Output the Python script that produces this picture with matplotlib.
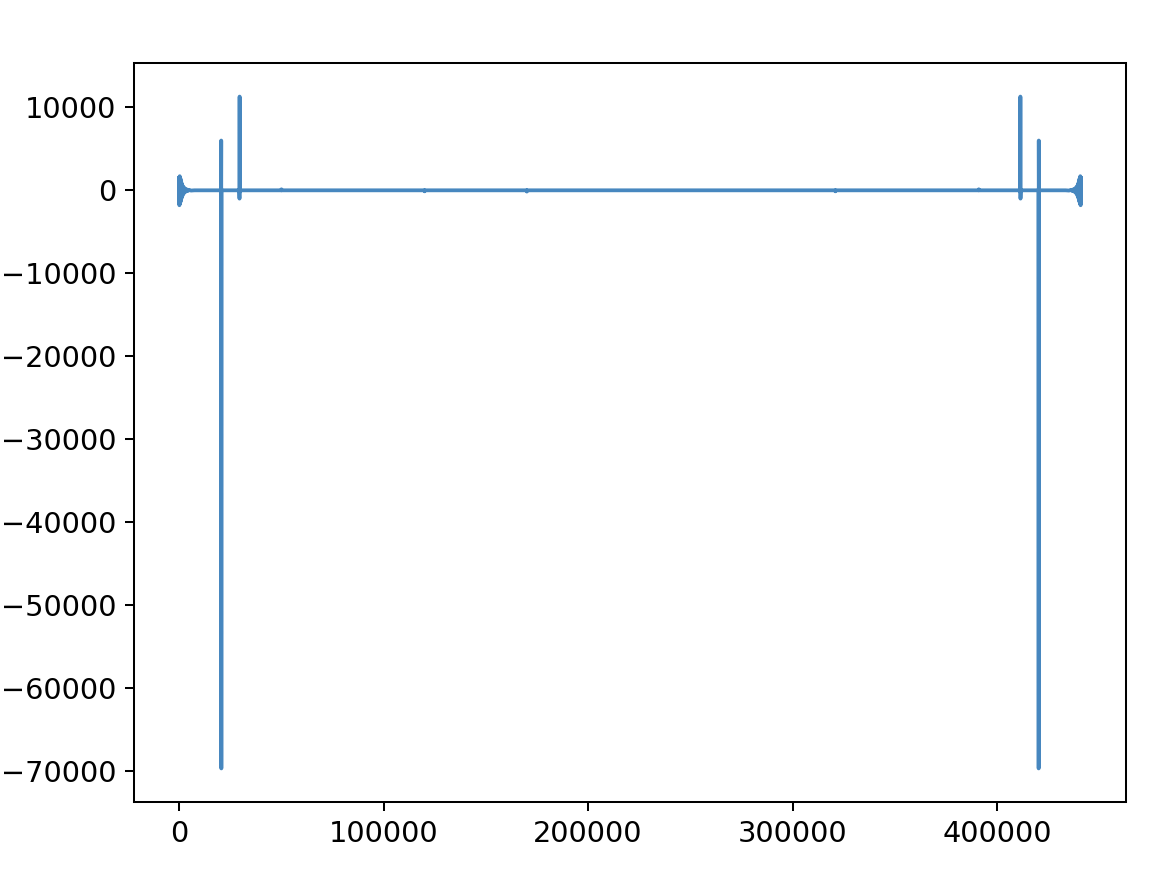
import numpy as np
import matplotlib
matplotlib.use("Agg")
import matplotlib.pyplot as plt

# key points of the spectrum (sample index -> value)
head_idx = [0, 150, 300, 450, 620, 800, 1000, 1220, 1460, 1720, 2000, 2320, 2680,
            3100, 3600, 4200, 4900, 5800, 7500]
head_val = [1500, -1800, 1700, -1600, 1450, -1350, 1150, -950, 780, -620, 480,
            -370, 270, -190, 130, -90, 60, -30, 0]

spike_idx = [20450, 20540, 20600, 20660, 20750, 29450, 29540, 29600, 29660, 29750,
             50000, 50050, 50100, 120000, 120050, 120100, 170000, 170050, 170100,
             320900, 320950, 321000, 391000, 391050, 391100,
             411250, 411340, 411400, 411460, 411550, 420250, 420340, 420400, 420460, 420550]
spike_val = [0, 80, 6000, -69700, 0, 0, -1000, 11300, -200, 0,
             0, 120, 0, 0, -120, 0, 0, -150, 0,
             0, -120, 0, 0, 120, 0,
             0, -200, 11300, -1000, 0, 0, -69700, 6000, 80, 0]

tail_idx = [433500, 435200, 436100, 436800, 437400, 437900, 438320, 438680, 439000,
            439280, 439540, 439780, 440000, 440200, 440380, 440550, 440700, 440850, 441000]
tail_val = [0, -30, 60, -90, 130, -190, 270, -370, 480, -620, 780, -950, 1150,
            -1350, 1450, -1600, 1700, -1800, 1500]

x = np.array(head_idx + spike_idx + tail_idx)
y = np.array(head_val + spike_val + tail_val)

dpi = 181.875
fig = plt.figure(figsize=(1164 / dpi, 870 / dpi), dpi=dpi)
ax = fig.add_axes([134 / 1164, 1 - 802 / 870, (1126 - 134) / 1164, (802 - 63) / 870])
ax.plot(x, y, color="#4787bf", linewidth=1.5)
ax.set_xticks([0, 100000, 200000, 300000, 400000])
ax.set_yticks(np.arange(-70000, 10001, 10000))
ax.tick_params(labelsize=11.4)

fig.savefig("out.png", dpi=dpi)
